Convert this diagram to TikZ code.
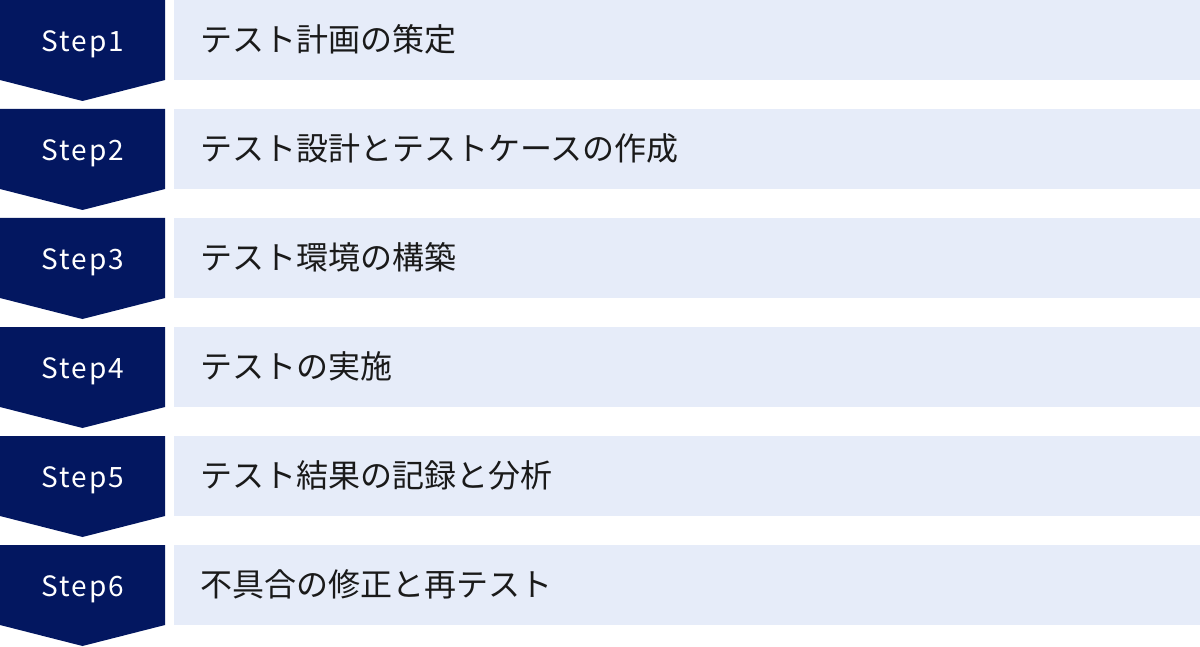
\documentclass[tikz,border=0pt]{standalone}
\usepackage{fontspec}
\setmainfont{Noto Sans CJK JP}
\newfontfamily\stepfont[LetterSpace=7]{Noto Sans CJK JP}
\definecolor{navy}{RGB}{3,23,96}
\definecolor{paleblue}{RGB}{230,236,249}
\definecolor{ink}{RGB}{26,26,26}
\tikzset{
  stepshape/.style={fill=navy, draw=none},
  barbox/.style={fill=paleblue, draw=none},
  steplabel/.style={text=white, font=\stepfont\fontsize{28}{32}\selectfont, inner sep=0pt, anchor=base},
  barlabel/.style={text=ink, font=\fontsize{32}{36}\selectfont, inner sep=0pt, anchor=west},
}
\begin{document}
\begin{tikzpicture}[x=1pt,y=-1pt]
\useasboundingbox (0,0) rectangle (1200,647);
\foreach \i/\t in {0/{テスト計画の策定},1/{テスト設計とテストケースの作成},2/{テスト環境の構築},3/{テストの実施},4/{テスト結果の記録と分析},5/{不具合の修正と再テスト}}{
  \pgfmathsetmacro{\y}{\i*109}
  \fill[stepshape] (0,\y) -- (165,\y) -- (165,\y+80) -- (82.5,\y+101) -- (0,\y+80) -- cycle;
  \fill[barbox] (174,\y) rectangle (1200,\y+80);
  \pgfmathtruncatemacro{\n}{\i+1}
  \node[steplabel] (s\n) at (83,\y+51.5) {Step\n};
  \node[barlabel] (t\n) at (200,\y+39.5) {\t};
}
\end{tikzpicture}
\end{document}
